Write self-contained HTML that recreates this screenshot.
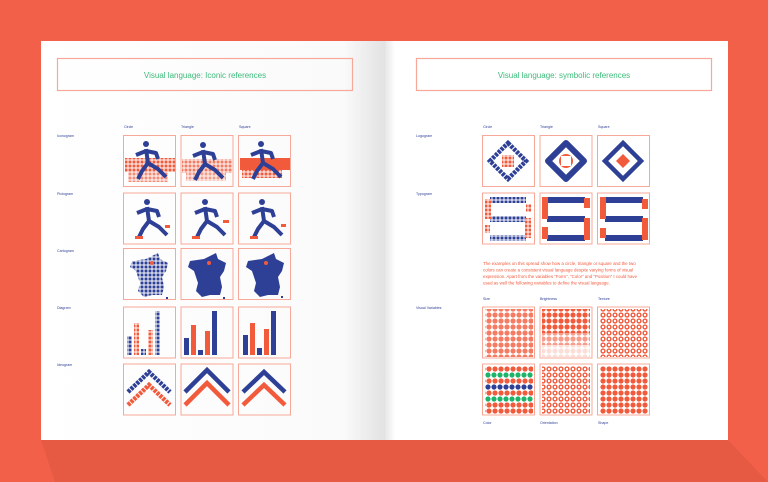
<!DOCTYPE html>
<html><head><meta charset="utf-8"><style>
html,body{margin:0;padding:0;width:768px;height:482px;overflow:hidden;background:#F2604A;font-family:"Liberation Sans",sans-serif}
</style></head><body>
<svg width="768" height="482" viewBox="0 0 768 482" xmlns="http://www.w3.org/2000/svg" style="display:block">
<defs>
<linearGradient id="sp" x1="0" x2="1"><stop offset="0" stop-color="#fff"/><stop offset="0.88" stop-color="#fafafa"/><stop offset="1" stop-color="#e2e2e2"/></linearGradient>
<linearGradient id="sp2" x1="0" x2="1"><stop offset="0" stop-color="#e6e6e6"/><stop offset="1" stop-color="#fff"/></linearGradient>
<pattern id="dots" width="6" height="6" patternUnits="userSpaceOnUse"><circle cx="3" cy="3" r="2.6" fill="#F25A3C"/></pattern>
<pattern id="ring" width="6" height="6" patternUnits="userSpaceOnUse"><circle cx="3" cy="3" r="2.6" fill="#F25A3C"/><circle cx="3" cy="3" r="1.2" fill="#fff"/></pattern>
<pattern id="bdots" width="4" height="4" patternUnits="userSpaceOnUse"><rect x="0.5" y="0.5" width="3" height="3" fill="#2E3F96"/></pattern>
<pattern id="odots" width="4" height="4" patternUnits="userSpaceOnUse"><rect x="0.5" y="0.5" width="3" height="3" fill="#F25A3C"/></pattern>
<g id="runner" fill="none" stroke="#2E3F96" stroke-width="4" stroke-linejoin="round">
<circle cx="20" cy="9" r="3" fill="#2E3F96" stroke="none"/>
<path d="M20 14 L22 28 M10 20 L20 16 L30 18 L32 24 M22 28 L16 36 L12 44 M22 28 L32 34 L40 42"/>
</g>
<path id="fr" d="M8 12 L22 10 L30 6 L34 4 L36 10 L44 14 L42 22 L38 28 L40 38 L38 46 L28 46 L20 48 L14 42 L16 34 L12 22 L6 18 Z"/>
</defs>
<polygon points="41,440 728,440 768,482 55,482" fill="#E65A44"/>
<rect x="41" y="41" width="344" height="399" fill="url(#sp)"/>
<rect x="385" y="41" width="343" height="399" fill="#fff"/>
<rect x="385" y="41" width="10" height="399" fill="url(#sp2)"/>
<g font-family="Liberation Sans, sans-serif">
<rect x="57.5" y="58.5" width="295" height="32" fill="none" stroke="#F7A898" stroke-width="1.2"/>
<text x="205" y="78" text-anchor="middle" font-size="8" fill="#3DBB7A">Visual language: Iconic references</text>
<rect x="416.5" y="58.5" width="295" height="32" fill="none" stroke="#F7A898" stroke-width="1.2"/>
<text x="564" y="78" text-anchor="middle" font-size="8" fill="#3DBB7A">Visual language: symbolic references</text>
<g font-size="3.6" fill="#2E3F96">
<text x="124" y="128">Circle</text><text x="181" y="128">Triangle</text><text x="239" y="128">Square</text>
<text x="57" y="137">Iconogram</text><text x="57" y="195">Pictogram</text><text x="57" y="252">Cartogram</text><text x="57" y="309">Diagram</text><text x="57" y="366">Ideogram</text>
<text x="483" y="128">Circle</text><text x="540" y="128">Triangle</text><text x="598" y="128">Square</text>
<text x="416" y="137">Logogram</text><text x="416" y="195">Typogram</text><text x="416" y="309">Visual Variables</text>
<text x="483" y="300">Size</text><text x="540" y="300">Brightness</text><text x="598" y="300">Texture</text>
<text x="483" y="424">Color</text><text x="540" y="424">Orientation</text><text x="598" y="424">Shape</text>
</g>
<g font-size="4.4" fill="#F25A3C">
<text x="483" y="265">The examples on this spread show how a circle, triangle or square and the two</text>
<text x="483" y="271.5">colors can create a consistent visual language despite varying forms of visual</text>
<text x="483" y="278">expression. Apart from the variables "Form", "Color" and "Position" I could have</text>
<text x="483" y="284.5">used as well the following variables to define the visual language.</text>
</g>
</g>
<g fill="none" stroke="#F7A898" stroke-width="1">
<rect x="123.5" y="135.5" width="52" height="51"/><rect x="181" y="135.5" width="52" height="51"/><rect x="238.5" y="135.5" width="52" height="51"/>
<rect x="123.5" y="193" width="52" height="51"/><rect x="181" y="193" width="52" height="51"/><rect x="238.5" y="193" width="52" height="51"/>
<rect x="123.5" y="248.5" width="52" height="51"/><rect x="181" y="248.5" width="52" height="51"/><rect x="238.5" y="248.5" width="52" height="51"/>
<rect x="123.5" y="307" width="52" height="51"/><rect x="181" y="307" width="52" height="51"/><rect x="238.5" y="307" width="52" height="51"/>
<rect x="123.5" y="364" width="52" height="51"/><rect x="181" y="364" width="52" height="51"/><rect x="238.5" y="364" width="52" height="51"/>
<rect x="482.5" y="135.5" width="52" height="51"/><rect x="540" y="135.5" width="52" height="51"/><rect x="597.5" y="135.5" width="52" height="51"/>
<rect x="482.5" y="193" width="52" height="51"/><rect x="540" y="193" width="52" height="51"/><rect x="597.5" y="193" width="52" height="51"/>
<rect x="482.5" y="307" width="52" height="51"/><rect x="540" y="307" width="52" height="51"/><rect x="597.5" y="307" width="52" height="51"/>
<rect x="482.5" y="364" width="52" height="51"/><rect x="540" y="364" width="52" height="51"/><rect x="597.5" y="364" width="52" height="51"/>
</g>
<rect x="125" y="158" width="50" height="14" fill="url(#odots)"/><rect x="182" y="159" width="50" height="14" fill="url(#odots)" opacity="0.8"/><rect x="240" y="158" width="50" height="12" fill="#F25A3C"/>
<rect x="128" y="172" width="40" height="10" fill="url(#odots)" opacity="0.7"/><rect x="186" y="173" width="40" height="8" fill="url(#odots)" opacity="0.6"/><rect x="242" y="170" width="40" height="8" fill="url(#odots)"/>
<use href="#runner" x="126" y="135"/><use href="#runner" x="183" y="136"/><use href="#runner" x="241" y="135" stroke-width="5"/>
<use href="#runner" x="127" y="193"/><use href="#runner" x="185" y="193" stroke-width="5"/><use href="#runner" x="242" y="193"/>
<g fill="#F25A3C"><rect x="135" y="236" width="8" height="3"/><rect x="192" y="236" width="8" height="3"/><rect x="250" y="236" width="8" height="3"/>
<rect x="165" y="225" width="5" height="3"/><rect x="223" y="220" width="6" height="3"/><rect x="281" y="224" width="5" height="3"/></g>
<use href="#fr" x="124" y="249" fill="url(#bdots)"/><use href="#fr" x="182" y="249" fill="#2E3F96"/><use href="#fr" x="240" y="249" fill="#2E3F96"/>
<g fill="#F25A3C"><circle cx="152" cy="263" r="2"/><circle cx="209" cy="263" r="2"/><circle cx="266" cy="263" r="2"/></g>
<g fill="#2E3F96"><rect x="166" y="297" width="2" height="2"/><rect x="223" y="297" width="2" height="2"/><rect x="281" y="296" width="2" height="2"/></g>
<g><rect x="127" y="336" width="5" height="19" fill="url(#bdots)"/><rect x="134" y="323" width="5" height="32" fill="url(#odots)"/><rect x="141" y="349" width="5" height="6" fill="url(#bdots)"/><rect x="148" y="330" width="5" height="25" fill="url(#odots)"/><rect x="155" y="311" width="5" height="44" fill="url(#bdots)"/></g>
<g><rect x="184" y="338" width="5" height="17" fill="#2E3F96"/><rect x="191" y="325" width="5" height="30" fill="#F25A3C"/><rect x="198" y="350" width="5" height="5" fill="#2E3F96"/><rect x="205" y="331" width="5" height="24" fill="#F25A3C"/><rect x="212" y="311" width="5" height="44" fill="#2E3F96"/></g>
<g><rect x="243" y="335" width="5" height="20" fill="#2E3F96"/><rect x="250" y="323" width="5" height="32" fill="#F25A3C"/><rect x="257" y="348" width="5" height="7" fill="#2E3F96"/><rect x="264" y="329" width="5" height="26" fill="#F25A3C"/><rect x="271" y="311" width="5" height="44" fill="#2E3F96"/></g>
<g fill="none" stroke-width="4.5">
<path d="M128 392 L149 372 L170 392" stroke="#2E3F96" stroke-dasharray="3 1"/><path d="M128 405 L149 385 L170 405" stroke="#F25A3C" stroke-dasharray="3 1"/>
<path d="M185 392 L207 370 L229 392" stroke="#2E3F96"/><path d="M185 405 L207 383 L229 405" stroke="#F25A3C"/>
<path d="M243 392 L264 372 L285 392" stroke="#2E3F96"/><path d="M243 405 L264 385 L285 405" stroke="#F25A3C"/>
</g>
<g fill="none" stroke="#2E3F96" stroke-width="4.5">
<path d="M508 143 L526 161 L508 179 L490 161 Z" stroke-dasharray="3 1"/>
<path d="M566 143 L584 161 L566 179 L548 161 Z" stroke-width="6" stroke-linejoin="round"/>
<path d="M623 143 L641 161 L623 179 L605 161 Z"/>
</g>
<g fill="#F25A3C"><rect x="502" y="155" width="12" height="12" fill="url(#odots)"/><circle cx="566" cy="161" r="7"/><rect x="561" y="156" width="10" height="10" fill="#fff"/><path d="M623 154 L630 161 L623 168 L616 161Z"/></g>
<g>
<rect x="490" y="197" width="36" height="6" fill="url(#bdots)"/><rect x="490" y="216" width="36" height="6" fill="url(#bdots)"/><rect x="490" y="235" width="36" height="6" fill="url(#bdots)"/>
<rect x="485" y="199" width="6" height="20" fill="url(#odots)"/><rect x="525" y="218" width="6" height="20" fill="url(#odots)"/><rect x="485" y="225" width="5" height="8" fill="url(#odots)"/><rect x="526" y="204" width="5" height="8" fill="url(#odots)"/>
<rect x="547" y="197" width="38" height="6" fill="#2E3F96"/><rect x="547" y="216" width="38" height="6" fill="#2E3F96"/><rect x="547" y="235" width="38" height="6" fill="#2E3F96"/>
<rect x="542" y="197" width="6" height="22" fill="#F25A3C"/><rect x="584" y="218" width="6" height="22" fill="#F25A3C"/><rect x="542" y="227" width="6" height="12" fill="#F25A3C"/><rect x="584" y="198" width="6" height="10" fill="#F25A3C"/>
<rect x="605" y="197" width="38" height="6" fill="#2E3F96"/><rect x="605" y="216" width="38" height="6" fill="#2E3F96"/><rect x="605" y="235" width="38" height="6" fill="#2E3F96"/>
<rect x="600" y="197" width="6" height="22" fill="#F25A3C"/><rect x="642" y="218" width="6" height="22" fill="#F25A3C"/><rect x="600" y="228" width="6" height="10" fill="#F25A3C"/><rect x="642" y="199" width="6" height="10" fill="#F25A3C"/>
</g>
<rect x="485" y="309" width="48" height="48" fill="url(#dots)" opacity="0.8"/>
<rect x="542" y="309" width="48" height="24" fill="url(#dots)"/><rect x="542" y="333" width="48" height="12" fill="url(#dots)" opacity="0.6"/><rect x="542" y="345" width="48" height="12" fill="url(#dots)" opacity="0.2"/>
<rect x="600" y="309" width="48" height="48" fill="url(#ring)"/>
<rect x="485" y="366" width="48" height="48" fill="url(#dots)"/>
<rect x="485" y="372" width="48" height="6" fill="#fff"/><rect x="485" y="396" width="48" height="6" fill="#fff"/><rect x="485" y="384" width="48" height="6" fill="#fff"/>
<g fill="#1DB36A"><circle cx="488" cy="375" r="2.6"/><circle cx="494" cy="375" r="2.6"/><circle cx="500" cy="375" r="2.6"/><circle cx="506" cy="375" r="2.6"/><circle cx="512" cy="375" r="2.6"/><circle cx="518" cy="375" r="2.6"/><circle cx="524" cy="375" r="2.6"/><circle cx="530" cy="375" r="2.6"/>
<circle cx="488" cy="399" r="2.6"/><circle cx="494" cy="399" r="2.6"/><circle cx="500" cy="399" r="2.6"/><circle cx="506" cy="399" r="2.6"/><circle cx="512" cy="399" r="2.6"/><circle cx="518" cy="399" r="2.6"/><circle cx="524" cy="399" r="2.6"/><circle cx="530" cy="399" r="2.6"/></g>
<g fill="#2E3F96"><circle cx="488" cy="387" r="2.6"/><circle cx="494" cy="387" r="2.6"/><circle cx="500" cy="387" r="2.6"/><circle cx="506" cy="387" r="2.6"/><circle cx="512" cy="387" r="2.6"/><circle cx="518" cy="387" r="2.6"/><circle cx="524" cy="387" r="2.6"/><circle cx="530" cy="387" r="2.6"/></g>
<rect x="542" y="366" width="48" height="48" fill="url(#ring)"/>
<rect x="600" y="366" width="48" height="48" fill="url(#dots)"/>
</svg>
</body></html>
